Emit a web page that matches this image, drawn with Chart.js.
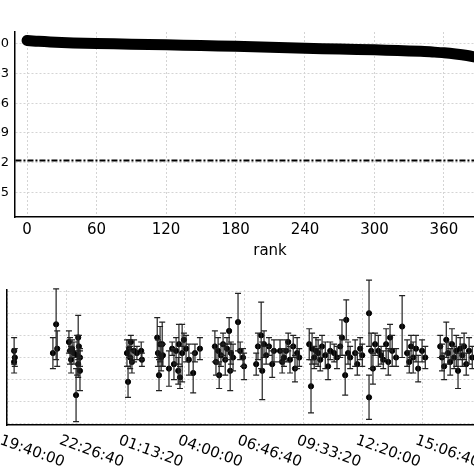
<!DOCTYPE html>
<html>
<head>
<meta charset="utf-8">
<script src="https://cdn.jsdelivr.net/npm/chart.js@4"></script>
<style>
  body { margin: 0; width: 474px; height: 474px; overflow: hidden; background: #fff; position: relative; }
  canvas { position: absolute; }
</style>
</head>
<body>
<canvas id="top" style="left:-35px;top:0px;width:580px;height:260px" width="580" height="260"></canvas>
<canvas id="bot" style="left:-30px;top:270px;width:560px;height:220px" width="560" height="220"></canvas>
<script>
// top panel: sorted values vs rank
const ranks = [0, 5, 10, 20, 40, 60, 90, 120, 150, 180, 210, 240, 270, 300, 320, 340, 350, 360, 370, 380, 390, 400];
const rankValues = [0.35, 0.3, 0.26, 0.2, 0.1, 0.04, -0.03, -0.1, -0.17, -0.25, -0.35, -0.45, -0.52, -0.6, -0.68, -0.75, -0.82, -0.9, -1.02, -1.18, -1.4, -1.6];
const thresholdValue = -11.8;
const rankTicks = [0, 60, 120, 180, 240, 300, 360];
const valueTicks = [0, -3, -6, -9, -12, -15];

// bottom panel: minutes after 19:40:00, value, error
const tMin = [20,20,22,129,138,141,174,177,180,183,188,194,197,200,200,202,205,205,337,340,343,346,348,351,357,365,377,379,422,424,427,430,433,436,438,455,464,469,475,481,483,486,492,497,503,511,523,528,542,584,587,593,596,601,607,613,618,624,627,629,635,649,655,663,666,700,705,714,717,722,728,736,745,750,767,773,778,784,790,795,804,809,815,821,849,854,857,863,868,874,880,885,894,902,908,919,927,936,941,950,953,958,964,978,984,992,998,1017,1017,1023,1028,1034,1043,1051,1057,1065,1071,1076,1082,1093,1110,1124,1130,1135,1141,1149,1155,1166,1175,1217,1222,1228,1234,1239,1245,1250,1256,1262,1267,1273,1279,1284,1290,1298,1307];
const obsValues = [0.3,-0.2,0.0,0.2,1.5,0.4,0.7,0.3,-0.1,0.4,0.2,-1.7,0.1,0.9,-0.3,0.5,-0.6,0.0,0.2,-1.1,0.4,0.0,0.7,-0.2,0.3,0.2,0.3,-0.1,0.9,0.2,-0.8,0.6,0.0,0.6,0.1,-0.5,0.4,-0.3,0.3,-0.6,0.6,-0.9,0.2,0.8,0.4,-0.1,-0.7,0.2,0.4,0.5,-0.2,0.3,-0.8,0.1,0.6,-0.1,0.4,1.2,-0.6,0.2,0.0,1.6,0.3,0.0,-0.4,-0.3,0.5,1.0,-0.6,0.6,0.1,0.5,-0.3,0.3,0.3,-0.2,0.0,0.3,0.7,-0.1,0.5,-0.5,0.2,0.0,0.6,-1.3,0.4,0.0,0.3,0.2,-0.1,0.5,0.1,-0.4,0.3,0.2,0.0,0.5,0.9,-0.8,1.7,0.2,0.0,0.2,-0.3,0.4,0.1,2.0,-1.8,0.3,-0.5,0.6,0.3,0.1,-0.1,0.6,-0.2,0.9,0.3,0.0,1.4,0.2,-0.2,0.5,0.0,0.4,-0.5,0.3,0.0,0.5,0.0,-0.4,0.8,0.2,-0.2,0.6,0.0,0.3,-0.6,0.4,0.1,0.5,-0.3,0.3,0.0];
const obsErrors = [0.6,0.5,0.4,0.7,1.6,0.8,0.5,0.6,0.6,0.4,0.5,1.2,0.9,1.0,0.6,0.5,0.9,0.4,0.6,0.7,0.4,0.5,0.3,0.5,0.5,0.3,0.4,0.3,0.9,0.6,0.7,0.8,0.6,1.0,0.5,0.8,0.3,0.7,0.6,0.6,0.9,0.5,1.3,0.3,0.6,0.7,0.9,0.4,0.5,0.7,0.6,0.6,0.6,0.5,0.5,0.7,0.5,0.6,0.9,0.5,0.6,1.3,0.4,0.4,0.6,0.5,0.6,1.5,1.3,0.6,0.4,0.4,0.6,0.5,0.5,0.5,0.4,0.5,0.4,0.6,0.5,0.6,0.7,0.4,0.7,1.2,0.7,0.5,0.6,0.6,0.5,0.5,0.6,0.6,0.4,0.4,0.5,0.5,0.8,0.9,0.9,0.5,0.5,0.6,0.5,0.5,0.5,1.5,1.0,0.8,0.7,0.5,0.7,0.4,0.4,0.7,0.6,0.6,0.7,0.4,1.4,0.6,0.5,0.5,0.7,0.6,0.6,0.5,0.5,0.5,0.6,0.6,0.8,0.5,0.6,0.7,0.5,0.7,0.8,0.5,0.5,0.6,0.5,0.6,0.5];
const timeTickSeconds = [0, 10000, 20000, 30000, 40000, 50000, 60000, 70000, 80000];
const startSeconds = 19 * 3600 + 40 * 60;

const font = { family: "DejaVu Sans", size: 15 };
const gridStyle = { color: "#d4d4d4", lineWidth: 1, drawTicks: false };
const axisBorder = { color: "#000", width: 1.5, dash: [2, 2] };

function fmtTime(s) {
  s = ((s % 86400) + 86400) % 86400;
  const p = n => String(Math.floor(n)).padStart(2, "0");
  return p(s / 3600) + ":" + p((s % 3600) / 60) + ":" + p(s % 60);
}

new Chart(document.getElementById("top"), {
  type: "line",
  data: {
    datasets: [
      {
        data: ranks.map((r, i) => ({ x: r, y: rankValues[i] })),
        borderColor: "#000", backgroundColor: "#000",
        borderWidth: 11, pointRadius: 0, borderCapStyle: "round", tension: 0.3
      },
      {
        data: [{ x: -10, y: thresholdValue }, { x: 440, y: thresholdValue }],
        borderColor: "#000", borderWidth: 2, borderDash: [6, 2, 2, 2], pointRadius: 0
      }
    ]
  },
  options: {
    animation: false, responsive: false,
    layout: { padding: { top: 32, right: 20 } },
    plugins: { legend: { display: false }, tooltip: { enabled: false } },
    scales: {
      x: {
        type: "linear", min: -10.4, max: 430,
        afterBuildTicks: s => { s.ticks = rankTicks.map(v => ({ value: v })); },
        afterFit: s => { s.height = 43; },
        ticks: { font, color: "#000", padding: 4 },
        grid: gridStyle,
        border: axisBorder,
        title: { display: true, text: "rank", font, color: "#000", padding: 0 }
      },
      y: {
        min: -17.5, max: 1.2,
        afterBuildTicks: s => { s.ticks = valueTicks.map(v => ({ value: v })); },
        afterFit: s => { s.width = 50; },
        ticks: { font: { family: "DejaVu Sans", size: 13 }, color: "#000", padding: 6 },
        grid: gridStyle,
        border: axisBorder
      }
    }
  }
});

const errorBars = {
  id: "errorBars",
  afterDatasetsDraw(chart) {
    const { ctx, scales: { x, y } } = chart;
    ctx.save();
    ctx.strokeStyle = "#222";
    ctx.lineWidth = 1.2;
    tMin.forEach((t, i) => {
      const px = x.getPixelForValue(t);
      const y1 = y.getPixelForValue(obsValues[i] + obsErrors[i]);
      const y2 = y.getPixelForValue(obsValues[i] - obsErrors[i]);
      ctx.beginPath();
      ctx.moveTo(px, y1); ctx.lineTo(px, y2);
      ctx.moveTo(px - 3, y1); ctx.lineTo(px + 3, y1);
      ctx.moveTo(px - 3, y2); ctx.lineTo(px + 3, y2);
      ctx.stroke();
    });
    ctx.restore();
  },
  afterDraw(chart) {
    const { ctx, scales: { x }, chartArea } = chart;
    ctx.save();
    ctx.font = "15px 'DejaVu Sans'";
    ctx.fillStyle = "#000";
    ctx.textBaseline = "top";
    timeTickSeconds.forEach(s => {
      const px = x.getPixelForValue(s / 60);
      ctx.save();
      ctx.translate(px - 4, chartArea.bottom + 8);
      ctx.rotate(20 * Math.PI / 180);
      ctx.fillText(fmtTime(startSeconds + s), 0, 0);
      ctx.restore();
    });
    ctx.restore();
  }
};

new Chart(document.getElementById("bot"), {
  type: "scatter",
  data: {
    datasets: [{
      data: tMin.map((t, i) => ({ x: t, y: obsValues[i] })),
      backgroundColor: "#000", borderColor: "#000", pointRadius: 2.6
    }]
  },
  options: {
    animation: false, responsive: false,
    layout: { padding: { top: 20, right: 20 } },
    plugins: { legend: { display: false }, tooltip: { enabled: false } },
    scales: {
      x: {
        type: "linear", min: 0, max: 1413,
        afterBuildTicks: s => { s.ticks = timeTickSeconds.map(v => ({ value: v / 60 })); },
        afterFit: s => { s.height = 65; },
        ticks: { display: false },
        grid: gridStyle,
        border: axisBorder
      },
      y: {
        min: -3.05, max: 3.05,
        afterBuildTicks: s => { s.ticks = [-3, -2, -1, 0, 1, 2, 3].map(v => ({ value: v })); },
        afterFit: s => { s.width = 37; },
        ticks: { display: false },
        grid: gridStyle,
        border: axisBorder
      }
    }
  },
  plugins: [errorBars]
});
</script>
</body>
</html>
